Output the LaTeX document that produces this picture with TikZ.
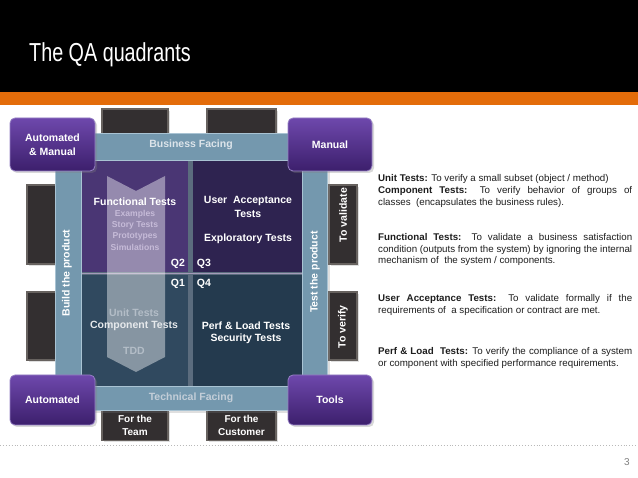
\documentclass[tikz,border=0pt]{standalone}
\usepackage{fontspec}
\setmainfont{Liberation Sans}
\usetikzlibrary{shadows}
\definecolor{qaorange}{HTML}{E36C0A}
\definecolor{tabgray}{HTML}{332F30}
\definecolor{tabedge}{HTML}{67625F}
\definecolor{framecol}{HTML}{7498AE}
\definecolor{frameedge}{HTML}{A9C3D3}
\definecolor{qtwo}{HTML}{4A3674}
\definecolor{qthree}{HTML}{2E2350}
\definecolor{qone}{HTML}{30495F}
\definecolor{qfour}{HTML}{243A4E}
\definecolor{divcol}{HTML}{5B6C7E}
\definecolor{purtop}{HTML}{6E48AC}
\definecolor{purbot}{HTML}{3C1F6C}
\definecolor{puredge}{HTML}{9680C4}
\definecolor{lavtext}{HTML}{C6BBD8}
\definecolor{bluegray}{HTML}{B3BDC7}
\definecolor{bartext}{HTML}{DCE4EA}
\definecolor{bartext2}{HTML}{C3CED8}
\definecolor{bodytext}{HTML}{1E1E1E}
\tikzset{
  tabbox/.style={fill=tabgray, draw=tabedge, line width=1.2pt, inner sep=0pt,
    drop shadow={shadow xshift=2pt, shadow yshift=-2pt, opacity=0.25}},
  purbox/.style={top color=purtop, bottom color=purbot, draw=puredge, line width=0.8pt,
    rounded corners=5pt, inner sep=0pt, text=white, align=center,
    font=\fontsize{10.5}{14}\selectfont\bfseries,
    drop shadow={shadow xshift=2pt, shadow yshift=-2pt, opacity=0.3}},
  lbl/.style={inner sep=0pt, text=white, align=center, font=\fontsize{10.5}{13}\selectfont\bfseries},
  sublbl/.style={inner sep=0pt, text=lavtext, font=\fontsize{8.6}{10}\selectfont\bfseries},
  rtext/.style={anchor=north west, inner sep=0pt, text width=254pt, align=justify,
    font=\fontsize{9.75}{11.8}\selectfont, text=bodytext}
}
\begin{document}
\begin{tikzpicture}[x=1pt,y=-1pt]
\useasboundingbox (0,0) rectangle (638,478);
\fill[white] (0,0) rectangle (638,478);
% header
\fill[black] (0,0) rectangle (638,92);
\fill[qaorange] (0,92) rectangle (638,105);
\node[anchor=base west, inner sep=0pt, text=white] (title) at (29,62)
  {\scalebox{0.76}[1]{\fontsize{26}{30}\selectfont The QA quadrants}};
% tabs behind frame
\node[tabbox, minimum width=66pt, minimum height=26pt] (ttab1) at (135,122) {};
\node[tabbox, minimum width=69pt, minimum height=26pt] (ttab2) at (241.5,122) {};
\node[tabbox, minimum width=29pt, minimum height=79pt] (ltab1) at (41.5,224.5) {};
\node[tabbox, minimum width=29pt, minimum height=68pt] (ltab2) at (41.5,326) {};
\node[tabbox, minimum width=28pt, minimum height=79pt] (rtab1) at (343,224.5) {};
\node[tabbox, minimum width=28pt, minimum height=68pt] (rtab2) at (343,326) {};
\node[tabbox, minimum width=66pt, minimum height=30pt, text=white, align=center,
  font=\fontsize{10}{13}\selectfont\bfseries] (btab1) at (135,425.5) {For the\\Team};
\node[tabbox, minimum width=69pt, minimum height=30pt, text=white, align=center,
  font=\fontsize{10}{13}\selectfont\bfseries] (btab2) at (241.5,425.5) {For the\\Customer};
\node[lbl, rotate=90] (tval) at (343,215) {To validate};
\node[lbl, rotate=90] (tver) at (343,327) {To verify};
% frame
\fill[framecol, drop shadow={shadow xshift=2pt, shadow yshift=-2pt, opacity=0.25}] (55,133) rectangle (328,411);
\draw[frameedge, line width=1.2pt] (55.6,133.6) rectangle (327.4,410.4);
\fill[divcol] (82,161) rectangle (302,386);
\draw[frameedge, line width=1pt] (81.5,160.5) rectangle (302.5,386.5);
\fill[qtwo] (82,161) rectangle (188,272);
\fill[qthree] (193,161) rectangle (302,272);
\fill[qone] (82,275) rectangle (188,386);
\fill[qfour] (193,275) rectangle (302,386);
\draw[white!50!qtwo, line width=0.8pt] (82,273.5) -- (302,273.5);
% arrow
\fill[white, opacity=0.42] (107,176) -- (136,191) -- (165,176) -- (165,357) -- (136,372) -- (107,357) -- cycle;
% bar labels
\node[lbl, text=bartext] (bf) at (191,145) {Business Facing};
\node[lbl, text=bartext2] (tf) at (191,398) {Technical Facing};
\node[lbl, rotate=90] (build) at (67,273) {Build the product};
\node[lbl, rotate=90] (test) at (315,272) {Test the product};
% quadrant texts
\node[lbl] (ft) at (135,202) {Functional Tests};
\node[sublbl] (ex) at (135,214) {Examples};
\node[sublbl] (st) at (135,225) {Story Tests};
\node[sublbl] (pr) at (135,236) {Prototypes};
\node[sublbl] (sim) at (135,247) {Simulations};
\node[lbl] (uat) at (248,201) {User\ \ Acceptance};
\node[lbl] (uat2) at (248,214) {Tests};
\node[lbl] (exp) at (248,239) {Exploratory Tests};
\node[lbl] (q2) at (178,264) {Q2};
\node[lbl] (q3) at (204,264) {Q3};
\node[lbl] (q1) at (178,284) {Q1};
\node[lbl] (q4) at (204,284) {Q4};
\node[lbl, text=bluegray] (ut) at (134,313) {Unit Tests};
\node[lbl, text=white!88!qone] (ct) at (134,326) {Component Tests};
\node[lbl, text=bluegray] (tdd) at (134,351) {TDD};
\node[lbl] (pl) at (246,326) {Perf \& Load Tests};
\node[lbl] (sec) at (246,339) {Security Tests};
% purple corner boxes
\node[purbox, minimum width=85pt, minimum height=53pt] (am) at (52.5,144.5) {Automated\\\& Manual};
\node[purbox, minimum width=84pt, minimum height=53pt] (man) at (330,144.5) {Manual};
\node[purbox, minimum width=85pt, minimum height=50pt] (aut) at (52.5,400) {Automated};
\node[purbox, minimum width=84pt, minimum height=50pt] (tools) at (330,400) {Tools};
% right-hand text
\node[rtext] (p1) at (378,174.5) {\textbf{Unit Tests:} To verify a small subset (object / method)\\
\textbf{Component Tests:} To verify behavior of groups of\linebreak
classes\ \ (encapsulates the business rules).};
\node[rtext] (p2) at (378,233) {\textbf{Functional Tests:} To validate a business satisfaction\linebreak
condition (outputs from the system) by ignoring the internal\linebreak
mechanism of\ \ the system / components.};
\node[rtext] (p3) at (378,294) {\textbf{User Acceptance Tests:} To validate formally if the\linebreak
requirements of\ \ a specification or contract are met.};
\node[rtext] (p4) at (378,347.5) {\textbf{Perf \& Load\ \ Tests:} To verify the compliance of a system\linebreak
or component with specified performance requirements.};
% footer
\coordinate (dl) at (0,445);
\coordinate (dr) at (638,445);
\draw[gray!55, dotted, line width=0.9pt] (dl) -- (dr);
\node[inner sep=0pt, text=gray, font=\fontsize{10}{12}\selectfont] (pg) at (627,462) {3};
\end{tikzpicture}
\end{document}
